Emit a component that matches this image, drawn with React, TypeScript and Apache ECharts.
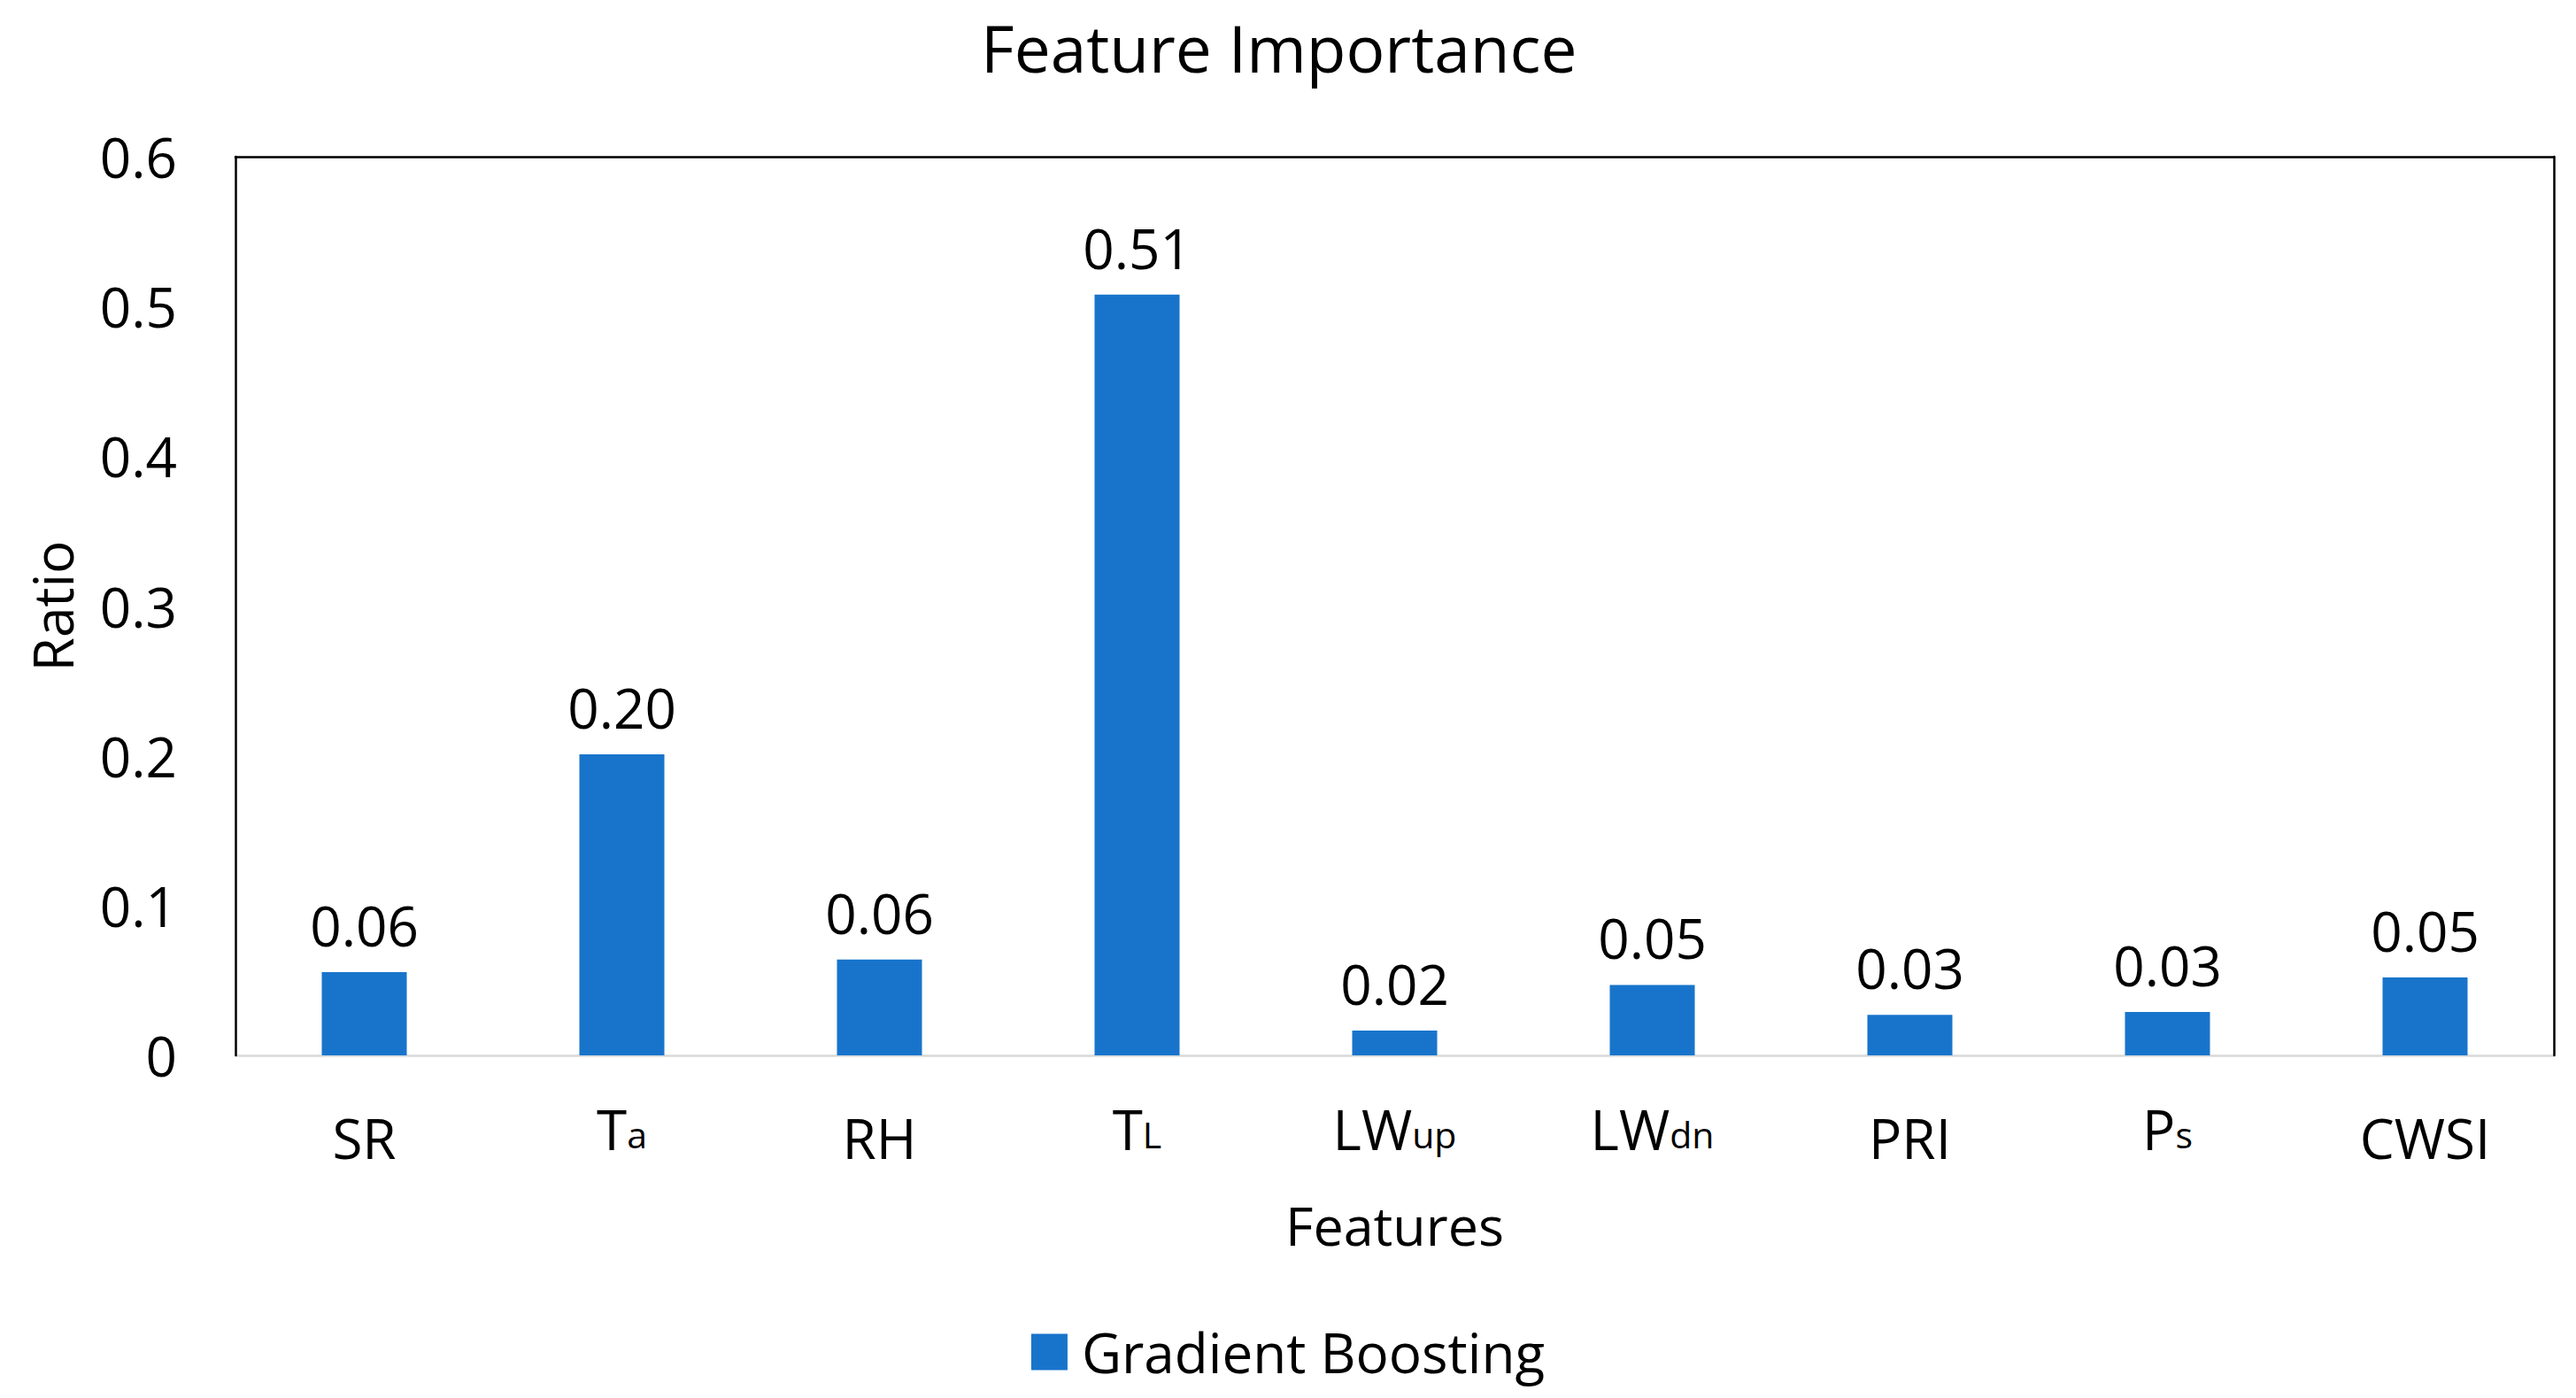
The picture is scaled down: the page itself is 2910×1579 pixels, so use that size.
import React, { useEffect, useRef } from "react";
import * as echarts from "echarts";

// ---- data ----
const chartTitle = "Feature Importance";
const xAxisName = "Features";
const yAxisName = "Ratio";
const seriesName = "Gradient Boosting";
const featureBase = ["SR", "T", "RH", "T", "LW", "LW", "PRI", "P", "CWSI"];
const featureSub = ["", "a", "", "L", "up", "dn", "", "s", ""];
const categories = featureBase.map((b, i) => b + featureSub[i]);
const importance = [0.0555, 0.201, 0.064, 0.508, 0.0165, 0.047, 0.027, 0.029, 0.052];
const yMin = 0;
const yMax = 0.6;
const yInterval = 0.1;

const FONT = "'Open Sans', 'Noto Sans', sans-serif";
const BAR_COLOR = "#1874CB";

export default function App() {
  const ref = useRef<HTMLDivElement>(null);

  useEffect(() => {
    document.body.style.margin = "0";
    if (!ref.current) return;
    const chart = echarts.init(ref.current, undefined, { renderer: "svg" });

    const option: any = {
      animation: false,
      backgroundColor: "#ffffff",
      textStyle: { fontFamily: FONT, color: "#000" },
      title: {
        text: chartTitle,
        left: 1108,
        top: 17,
        padding: 0,
        textStyle: { fontFamily: FONT, fontSize: 73, fontWeight: "normal", color: "#000" },
      },
      legend: {
        data: [seriesName],
        left: "center",
        top: 1496,
        padding: 0,
        icon: "rect",
        itemWidth: 41,
        itemHeight: 41,
        formatter: (name: string) => `{a|${name}}`,
        textStyle: {
          fontFamily: FONT,
          fontSize: 62,
          color: "#000",
          rich: {
            a: { fontFamily: FONT, fontSize: 62, color: "#000", padding: [0, 0, 0, 11] },
          },
        },
      },
      grid: { left: 266, right: 25, top: 177, bottom: 387, containLabel: false },
      xAxis: [
        {
          type: "category",
          data: categories,
          position: "bottom",
          name: xAxisName,
          nameLocation: "middle",
          nameGap: 161,
          nameTextStyle: { fontFamily: FONT, fontSize: 61, color: "#000" },
          axisLine: { show: true, onZero: false, lineStyle: { color: "#d9d9d9", width: 2.5 } },
          axisTick: { show: false },
          splitLine: { show: false },
          z: 1,
          axisLabel: {
            interval: 0,
            margin: 52,
            color: "#000",
            fontFamily: FONT,
            fontSize: 62,
            formatter: (_v: string, idx: number) =>
              featureSub[idx]
                ? `{b|${featureBase[idx]}}{s|${featureSub[idx]}}`
                : `{p|${featureBase[idx]}}`,
            rich: {
              b: { fontFamily: FONT, fontSize: 62, color: "#000", verticalAlign: "bottom" },
              s: {
                fontFamily: FONT,
                fontSize: 41,
                color: "#000",
                verticalAlign: "bottom",
                padding: [0, 0, 5, 0],
              },
              p: { fontFamily: FONT, fontSize: 62, color: "#000", padding: [10, 0, 0, 0] },
            },
          },
        },
        {
          type: "category",
          data: categories,
          position: "top",
          axisLine: { show: true, onZero: false, lineStyle: { color: "#000", width: 2.5 } },
          axisTick: { show: false },
          axisLabel: { show: false },
          splitLine: { show: false },
        },
      ],
      yAxis: [
        {
          type: "value",
          min: yMin,
          max: yMax,
          interval: yInterval,
          position: "left",
          name: yAxisName,
          nameLocation: "middle",
          nameGap: 176,
          nameTextStyle: { fontFamily: FONT, fontSize: 62, color: "#000" },
          axisLine: { show: true, onZero: false, lineStyle: { color: "#000", width: 2.5 } },
          axisTick: { show: false },
          splitLine: { show: false },
          z: 2,
          axisLabel: { margin: 66, color: "#000", fontFamily: FONT, fontSize: 62 },
        },
        {
          type: "value",
          min: yMin,
          max: yMax,
          interval: yInterval,
          position: "right",
          axisLine: { show: true, onZero: false, lineStyle: { color: "#000", width: 2.5 } },
          axisTick: { show: false },
          splitLine: { show: false },
          z: 2,
          axisLabel: { show: false },
        },
      ],
      series: [
        {
          name: seriesName,
          type: "bar",
          xAxisIndex: 0,
          yAxisIndex: 0,
          data: importance,
          barWidth: "33%",
          itemStyle: { color: BAR_COLOR },
          label: {
            show: true,
            position: "top",
            distance: 22,
            color: "#000",
            fontFamily: FONT,
            fontSize: 62,
            formatter: (p: any) => Number(p.value).toFixed(2),
          },
        },
      ],
    };

    chart.setOption(option);
    return () => chart.dispose();
  }, []);

  return <div ref={ref} style={{ width: 2910, height: 1579 }} />;
}
